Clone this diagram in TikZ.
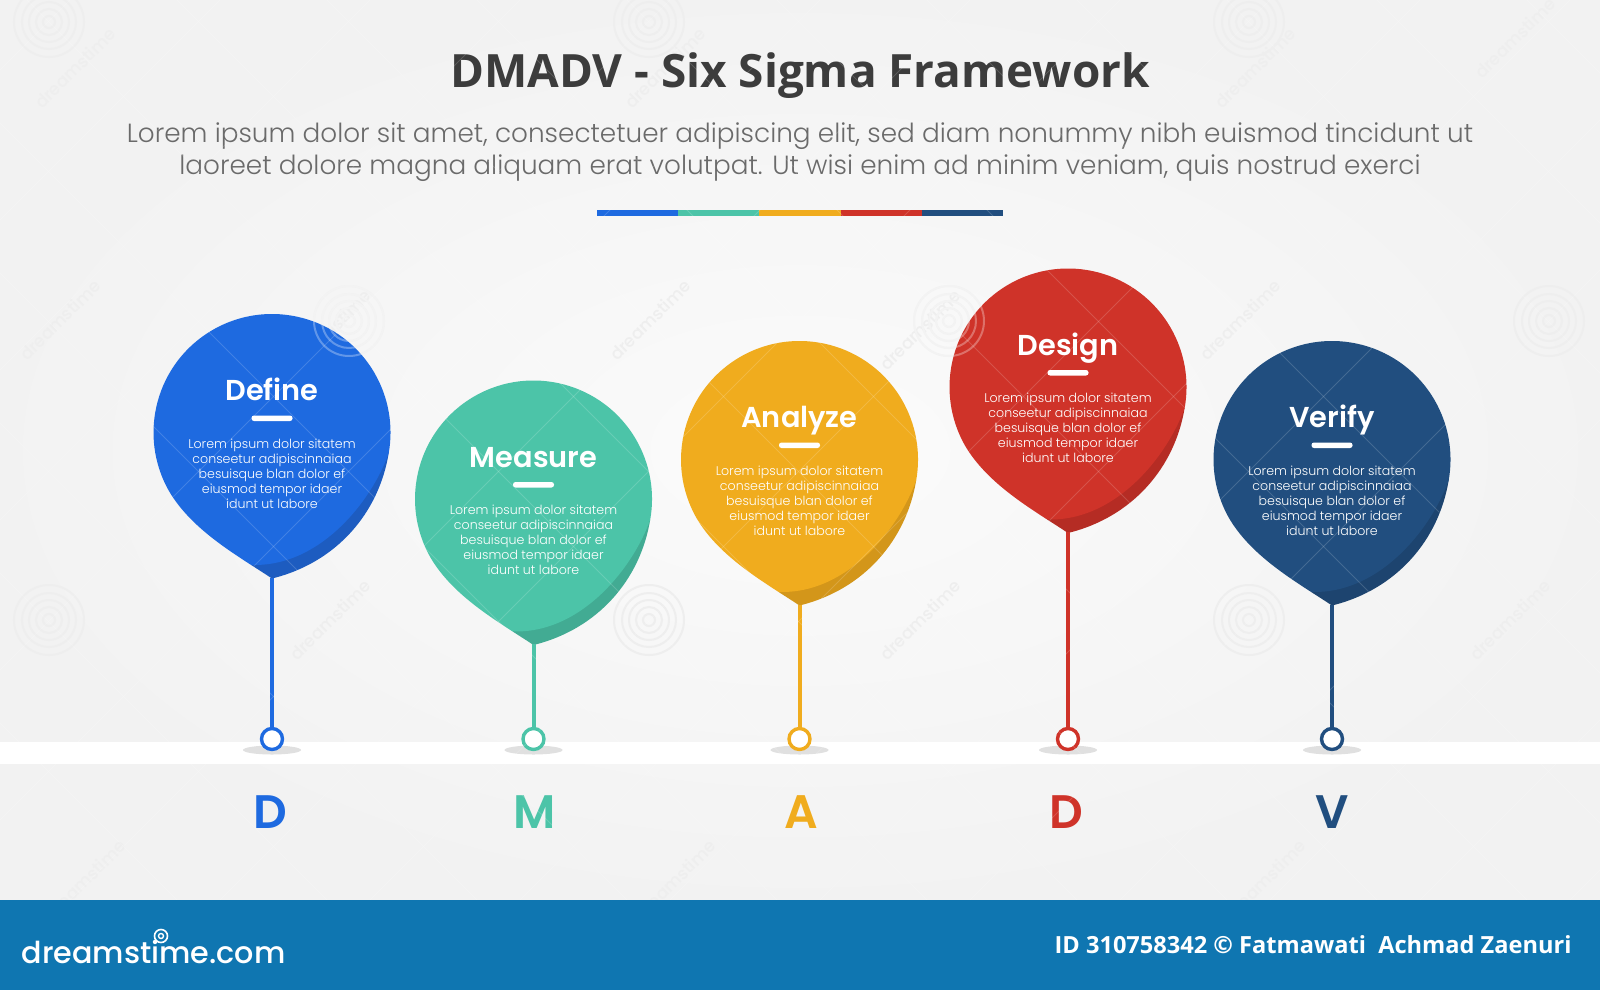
\documentclass[tikz,border=0pt]{standalone}
\usepackage{fontspec}
\setmainfont{Open Sans}
\newfontfamily\poplight{Poppins Light}
\newfontfamily\popsemi{Poppins SemiBold}
\newfontfamily\popmed{Poppins Medium}
\usetikzlibrary{calc}
\definecolor{cblue}{HTML}{1E6AE0}
\definecolor{cbluedk}{HTML}{1D5CC0}
\definecolor{cteal}{HTML}{4CC4A8}
\definecolor{ctealdk}{HTML}{42AB93}
\definecolor{camber}{HTML}{F0AC1E}
\definecolor{camberdk}{HTML}{D3961A}
\definecolor{cred}{HTML}{CF3329}
\definecolor{creddk}{HTML}{B52C24}
\definecolor{cnavy}{HTML}{214E7F}
\definecolor{cnavydk}{HTML}{1D446F}
\definecolor{footer}{HTML}{0F76B1}
\definecolor{ink}{HTML}{3C3C3C}
\definecolor{subink}{HTML}{6A6A6A}
\definecolor{wm}{HTML}{EEEEEE}
\tikzset{
  x=1pt,y=-1pt,
  stem/.style={line width=4pt},
  ring/.style={circle,draw,line width=3.4pt,fill=white,minimum size=21pt,inner sep=0pt},
  btitle/.style={text=white,anchor=base,font=\popsemi\fontsize{28.8}{30}\selectfont},
  bbody/.style={text=white,align=center,font=\poplight\fontsize{12.6}{15}\selectfont},
  letterlab/.style={font=\popsemi\fontsize{47}{50}\selectfont},
  wmline/.style={line width=.8pt,white,opacity=.16},
}
% spiral watermark
\newcommand{\wmspiral}[3]{%
  \begin{scope}[shift={(#1,#2)}]
    \foreach \r in {6,13,20,27,35}{\draw[#3,line width=2pt] (0,0) circle[radius=\r];}
  \end{scope}}
% lit face of the balloon, relative to the current origin
\newcommand{\balloonface}{(-102.6,59.25) arc[start angle=150,end angle=370,x radius=118.5,y radius=118.5]
  .. controls (100,68) and (48,135) .. (-21,132.4)
  .. controls (-50.5,113.4) and (-83.7,91) .. (-102.6,59.25) -- cycle}
% shaded crescent lying under the face, reaching to the tip
\newcommand{\balloonshade}{(116.7,20.6) .. controls (107,80) and (65,130) .. (0,146)
  .. controls (-6.6,141.6) and (-13.7,137.1) .. (-21,132.4) -- (0,50) -- cycle}
% #1 key, #2 cx, #3 cy, #4 colour, #5 dark colour, #6 title
\newcommand{\balloon}[6]{%
  \begin{scope}[shift={(#2,#3)}]
    \fill[#5] \balloonshade;
    \fill[#4] \balloonface;
    \node[btitle] (title#1) at (0,-32) {#6};
    \fill[white,rounded corners=2.5pt] (-20.5,-17) rectangle (20.5,-11.5);
    \node[bbody] (body#1) at (0,41) {Lorem ipsum dolor sitatem\\conseetur adipiscinnaiaa\\besuisque blan dolor ef\\eiusmod tempor idaer\\idunt ut labore};
    \coordinate (tip#1) at (0,145);
  \end{scope}%
  \fill[black!12] (#2,750) ellipse[x radius=29,y radius=4.5];
  \node[ring,draw=#4] (ring#1) at (#2,739) {};
  \draw[stem,#4] (tip#1) -- (ring#1);
}
\begin{document}
\begin{tikzpicture}
\useasboundingbox (0,0) rectangle (1600,990);
% background
\fill[inner color=white!98.5!black,outer color=white!95!black] (0,0) rectangle (1600,900);
% watermark underlay
\foreach \p/\q in {49/22,349/321,649/22,949/321,1249/22,1549/321,49/620,649/620,1249/620}{\wmspiral{\p}{\q}{wm}}
\foreach \p/\q in {75/68,665/68,1255/68,1515/38,330/330,920/330,60/320,650/320,1240/320,330/620,920/620,1510/620,85/880,675/880,1265/880}{
  \node[rotate=45,text=wm,font=\popmed\fontsize{17}{20}\selectfont] (wm\p x\q) at (\p,\q) {dreamstime};
}
% ground band
\fill[white] (0,742) rectangle (1600,764);
% title
\node[text=ink,font=\bfseries\fontsize{45.9}{50}\selectfont] (title) at (800,76) {DMADV - Six Sigma Framework};
\node[text=subink,align=center,font=\poplight\fontsize{26.3}{32}\selectfont] (subtitle) at (800,152) {Lorem ipsum dolor sit amet, consectetuer adipiscing elit, sed diam nonummy nibh euismod tincidunt ut\\laoreet dolore magna aliquam erat volutpat. Ut wisi enim ad minim veniam, quis nostrud exerci};
% colour bar
\fill[cblue] (597,210) rectangle (678,216);
\fill[cteal] (678,210) rectangle (759,216);
\fill[camber] (759,210) rectangle (841,216);
\fill[cred] (841,210) rectangle (922,216);
\fill[cnavy] (922,210) rectangle (1003,216);
% balloons
\balloon{D}{272}{432.5}{cblue}{cbluedk}{Define}
\balloon{M}{533.5}{499}{cteal}{ctealdk}{Measure}
\balloon{A}{799.5}{459.5}{camber}{camberdk}{Analyze}
\balloon{E}{1068}{387}{cred}{creddk}{Design}
\balloon{V}{1332}{459.5}{cnavy}{cnavydk}{Verify}
% letters
\node[letterlab,text=cblue] (letD) at (270,812) {D};
\node[letterlab,text=cteal] (letM) at (535,812) {M};
\node[letterlab,text=camber] (letA) at (801,812) {A};
\node[letterlab,text=cred] (letE) at (1066,812) {D};
\node[letterlab,text=cnavy] (letV) at (1332,812) {V};
% watermark overlay (shows only on the coloured shapes)
\foreach \k in {0,...,16}{
  \draw[wmline] (70+150*\k,0) -- (70+150*\k-900,900);
  \draw[wmline] (-723+150*\k,0) -- (-723+150*\k+900,900);
}
\foreach \p/\q in {349/321,949/321}{\wmspiral{\p}{\q}{white,opacity=.3}}
% footer
\fill[footer] (0,900) rectangle (1600,990);
\node[anchor=west,text=white,font=\popmed\fontsize{30.2}{34}\selectfont] (brand) at (18,952) {dreamstime.com};
\draw[white,line width=1.6pt] (161,936) circle[radius=6.5];
\draw[white,line width=1.4pt] (161,936) circle[radius=2.5];
\node[anchor=east,text=white,font=\bfseries\fontsize{23.6}{26}\selectfont] (credit) at (1575,945) {ID 310758342 © Fatmawati\ \ Achmad Zaenuri};
\end{tikzpicture}
\end{document}
